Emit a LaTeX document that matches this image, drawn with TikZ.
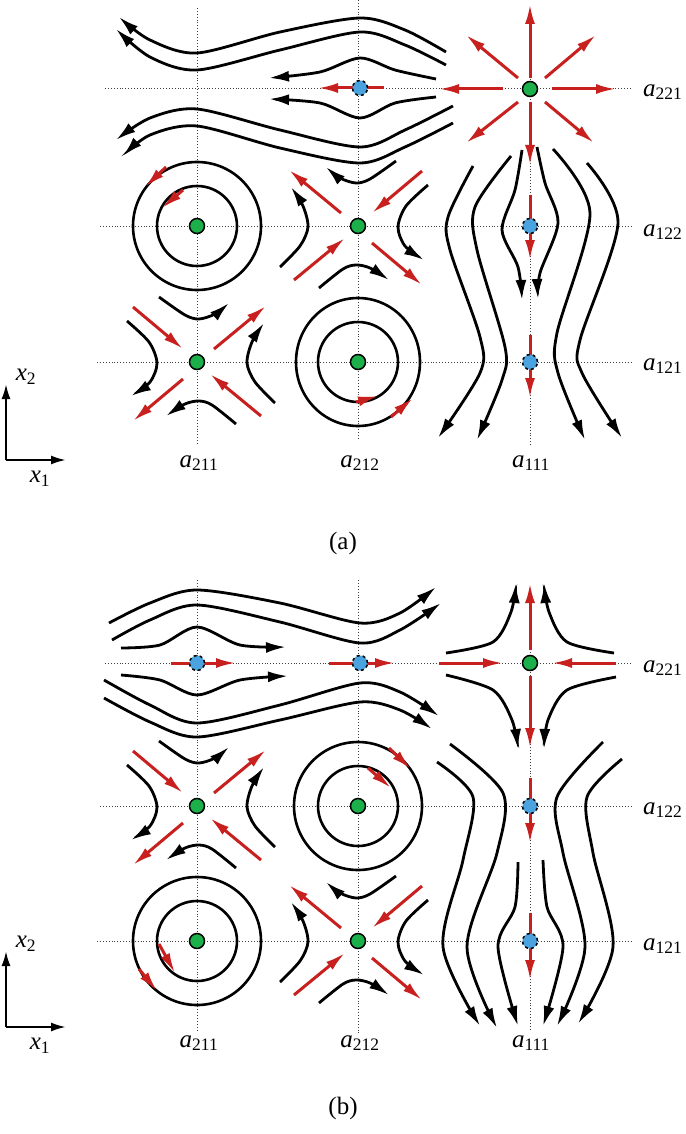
\documentclass[tikz,border=0pt]{standalone}
\usepackage{fontspec}
\setmainfont{Liberation Serif}
\usetikzlibrary{arrows.meta}
\definecolor{rd}{HTML}{C8201E}
\definecolor{gr}{HTML}{1BB04A}
\definecolor{bl}{HTML}{4AA3DF}
\newcommand\lab[2]{{\itshape #1}\textsubscript{\upshape #2}}
\tikzset{
 flow/.style={line width=2.8pt,black,-{Latex[length=20pt,width=11pt]}},
 curv/.style={line width=2.6pt,black},
 redar/.style={line width=3pt,rd,-{Latex[length=20pt,width=10pt]}},
 guide/.style={line width=0.9pt,black!75,dotted},
 gdot/.style={circle,fill=gr,draw=black,line width=1.5pt,minimum size=15pt,inner sep=0pt},
 bdot/.style={circle,fill=bl,draw=black,dashed,line width=1.5pt,minimum size=15pt,inner sep=0pt},
 lbl/.style={font=\fontsize{25}{28}\selectfont,inner sep=0pt},
 axar/.style={line width=2.2pt,-{Latex[length=15pt,width=9pt]}}
}
\newcommand\saddle[3]{%
\begin{scope}[shift={(#1,#2)},xscale=#3]
\draw[redar] (-64,-55)--(-14,-13);
\draw[redar] (17,-13)--(69,-56);
\draw[redar] (-14,17)--(-64,59);
\draw[redar] (64,54)--(13,12);
\draw[flow] plot[smooth] coordinates {(-38,-65) (-12,-47) (2,-43) (18,-48) (32,-59)};
\draw[flow] plot[smooth] coordinates {(78,41) (58,20) (50,1) (55,-20) (67,-39)};
\draw[flow] plot[smooth] coordinates {(39,62) (15,43) (2,39) (-12,42) (-31,54)};
\draw[flow] plot[smooth] coordinates {(-70,-41) (-48,-20) (-40,1) (-47,20) (-66,34)};
\end{scope}}
\begin{document}
\begin{tikzpicture}[x=1pt,y=-1pt]
\useasboundingbox (0,0) rectangle (685,1134);
% ---------- (a) guides
\draw[guide] (197,8)--(197,445);
\draw[guide] (358,0)--(358,440);
\draw[guide] (530,70)--(530,445);
\draw[guide] (105,88)--(632,88);
\draw[guide] (100,226)--(632,226);
\draw[guide] (97,362)--(632,362);
% top waves
\draw[flow] plot[smooth] coordinates {(446,52) (405,30) (360,18) (280,32) (197,53) (150,40) (119,17)};
\draw[flow] plot[smooth] coordinates {(446,65) (405,45) (360,32) (280,50) (197,70) (150,57) (116,29)};
\draw[flow] plot[smooth] coordinates {(436,79) (395,70) (360,58) (320,72) (269,78)};
\draw[flow] plot[smooth] coordinates {(436,97) (395,103) (360,118) (320,103) (269,99)};
\draw[flow] plot[smooth] coordinates {(453,106) (405,130) (360,147) (280,130) (197,109) (150,118) (116,140)};
\draw[flow] plot[smooth] coordinates {(453,123) (405,147) (360,163) (280,148) (197,126) (150,135) (123,156)};
% star
\draw[redar] (384,88)--(318,88);
\draw[redar] (503,89)--(439,89);
\draw[redar] (552,89)--(616,89);
\draw[redar] (530,78)--(530,4);
\draw[redar] (518,78)--(466,35);
\draw[redar] (545,78)--(596,35);
\draw[redar] (518,102)--(466,143);
\draw[redar] (545,102)--(594,143);
\draw[redar] (530,102)--(530,165);
\draw[redar] (530,195)--(530,260);
\draw[redar] (530,335)--(530,398);
% bundle
\draw[flow] plot[smooth] coordinates {(473,166) (448,217) (450,250) (480,337) (480,373) (438,438)};
\draw[flow] plot[smooth] coordinates {(511,156) (475,207) (477,250) (505,347) (502,380) (477,440)};
\draw[flow] plot[smooth] coordinates {(522,150) (515,190) (502,230) (518,267) (522,300)};
\draw[flow] plot[smooth] coordinates {(537,147) (545,183) (558,223) (540,273) (538,299)};
\draw[flow] plot[smooth] coordinates {(553,149) (590,213) (557,333) (558,373) (585,440)};
\draw[flow] plot[smooth] coordinates {(587,163) (618,223) (580,340) (582,373) (622,438)};
% centers
\draw[curv] (197,226) circle[radius=64];
\draw[curv] (197,226) circle[radius=40];
\draw[redar] (166,167)--(145,187);
\draw[redar] (183,190)--(162,208);
\draw[curv] (358,362) circle[x radius=62,y radius=64];
\draw[curv] (358,362) circle[radius=40];
\draw[redar] (391,417)--(413,398);
\draw[redar] (356,402)--(378,396);
% saddles
\saddle{197}{362}{1}
\saddle{358}{226}{-1}
% dots
\node[gdot] (g1) at (530,89) {};
\node[bdot] (b1) at (360,88) {};
\node[bdot] (b2) at (530,226) {};
\node[bdot] (b3) at (530,362) {};
\node[gdot] (g2) at (197,226) {};
\node[gdot] (g3) at (358,226) {};
\node[gdot] (g4) at (197,362) {};
\node[gdot] (g5) at (358,362) {};
% labels
\node[lbl,anchor=west] (l1) at (643,92) {\lab{a}{221}};
\node[lbl,anchor=west] (l2) at (643,232) {\lab{a}{122}};
\node[lbl,anchor=west] (l3) at (643,366) {\lab{a}{121}};
\node[lbl] (l4) at (199,463) {\lab{a}{211}};
\node[lbl] (l5) at (360,463) {\lab{a}{212}};
\node[lbl] (l6) at (531,463) {\lab{a}{111}};
\node[lbl] (l7) at (343,543) {(a)};
\coordinate (oa) at (6,460);
\coordinate (ya) at (6,384);
\coordinate (xa) at (66,460);
\draw[axar] (oa)--(ya);
\draw[axar] (oa)--(xa);
\node[lbl] (x2a) at (26,377) {\lab{x}{2}};
\node[lbl] (x1a) at (40,479) {\lab{x}{1}};
% ---------- (b) guides
\draw[guide] (197,580)--(197,1030);
\draw[guide] (358,580)--(358,1034);
\draw[guide] (530,640)--(530,1030);
\draw[guide] (105,663)--(632,663);
\draw[guide] (100,806)--(632,806);
\draw[guide] (97,941)--(632,941);
\draw[flow] plot[smooth] coordinates {(109,623) (150,603) (197,590) (280,603) (360,623) (400,613) (436,587)};
\draw[flow] plot[smooth] coordinates {(112,640) (150,620) (197,605) (280,622) (360,643) (400,630) (441,603)};
\draw[flow] plot[smooth] coordinates {(121,648) (160,645) (197,627) (240,645) (286,647)};
\draw[flow] plot[smooth] coordinates {(121,675) (160,680) (197,695) (240,680) (288,676)};
\draw[flow] plot[smooth] coordinates {(104,680) (150,705) (197,723) (280,705) (360,683) (400,692) (439,716)};
\draw[flow] plot[smooth] coordinates {(104,698) (150,722) (197,737) (280,720) (360,702) (400,710) (432,729)};
\draw[redar] (171,663)--(236,663);
\draw[redar] (329,663)--(395,663);
\draw[redar] (439,663)--(503,663);
\draw[redar] (616,663)--(552,663);
\draw[redar] (530,650)--(530,583);
\draw[redar] (530,676)--(530,748);
\draw[redar] (530,778)--(530,843);
\draw[redar] (530,913)--(530,980);
\draw[flow] plot[smooth] coordinates {(446,653) (493,642) (511,612) (516,583)};
\draw[flow] plot[smooth] coordinates {(614,653) (567,642) (549,612) (544,583)};
\draw[flow] plot[smooth] coordinates {(446,675) (493,690) (512,720) (518,749)};
\draw[flow] plot[smooth] coordinates {(616,677) (567,690) (548,720) (544,749)};
\draw[flow] plot[smooth] coordinates {(437,762) (473,797) (463,860) (443,947) (480,1026)};
\draw[flow] plot[smooth] coordinates {(450,744) (503,793) (497,853) (467,947) (497,1028)};
\draw[flow] plot[smooth] coordinates {(518,862) (515,907) (498,947) (518,1026)};
\draw[flow] plot[smooth] coordinates {(543,860) (547,907) (563,947) (543,1026)};
\draw[flow] plot[smooth] coordinates {(603,742) (557,797) (563,853) (585,947) (557,1026)};
\draw[flow] plot[smooth] coordinates {(622,759) (587,797) (593,853) (613,947) (578,1024)};
\draw[curv] (358,806) circle[radius=64];
\draw[curv] (358,806) circle[radius=40];
\draw[redar] (389,748)--(411,769);
\draw[redar] (368,768)--(391,788);
\draw[curv] (197,941) circle[radius=64];
\draw[curv] (197,941) circle[radius=40];
\draw[redar] (139,969)--(157,991);
\draw[redar] (159,944)--(175,973);
\saddle{197}{806}{1}
\saddle{358}{941}{-1}
\node[gdot] (g6) at (530,663) {};
\node[bdot] (b4) at (197,663) {};
\node[bdot] (b5) at (360,663) {};
\node[bdot] (b6) at (530,806) {};
\node[bdot] (b7) at (530,941) {};
\node[gdot] (g7) at (197,806) {};
\node[gdot] (g8) at (358,806) {};
\node[gdot] (g9) at (197,941) {};
\node[gdot] (g10) at (358,941) {};
\node[lbl,anchor=west] (m1) at (643,668) {\lab{a}{221}};
\node[lbl,anchor=west] (m2) at (643,810) {\lab{a}{122}};
\node[lbl,anchor=west] (m3) at (643,946) {\lab{a}{121}};
\node[lbl] (m4) at (199,1043) {\lab{a}{211}};
\node[lbl] (m5) at (360,1043) {\lab{a}{212}};
\node[lbl] (m6) at (531,1043) {\lab{a}{111}};
\node[lbl] (m7) at (343,1108) {(b)};
\coordinate (ob) at (6,1027);
\coordinate (yb) at (6,951);
\coordinate (xb) at (66,1027);
\draw[axar] (ob)--(yb);
\draw[axar] (ob)--(xb);
\node[lbl] (x2b) at (26,944) {\lab{x}{2}};
\node[lbl] (x1b) at (40,1046) {\lab{x}{1}};
\end{tikzpicture}
\end{document}
